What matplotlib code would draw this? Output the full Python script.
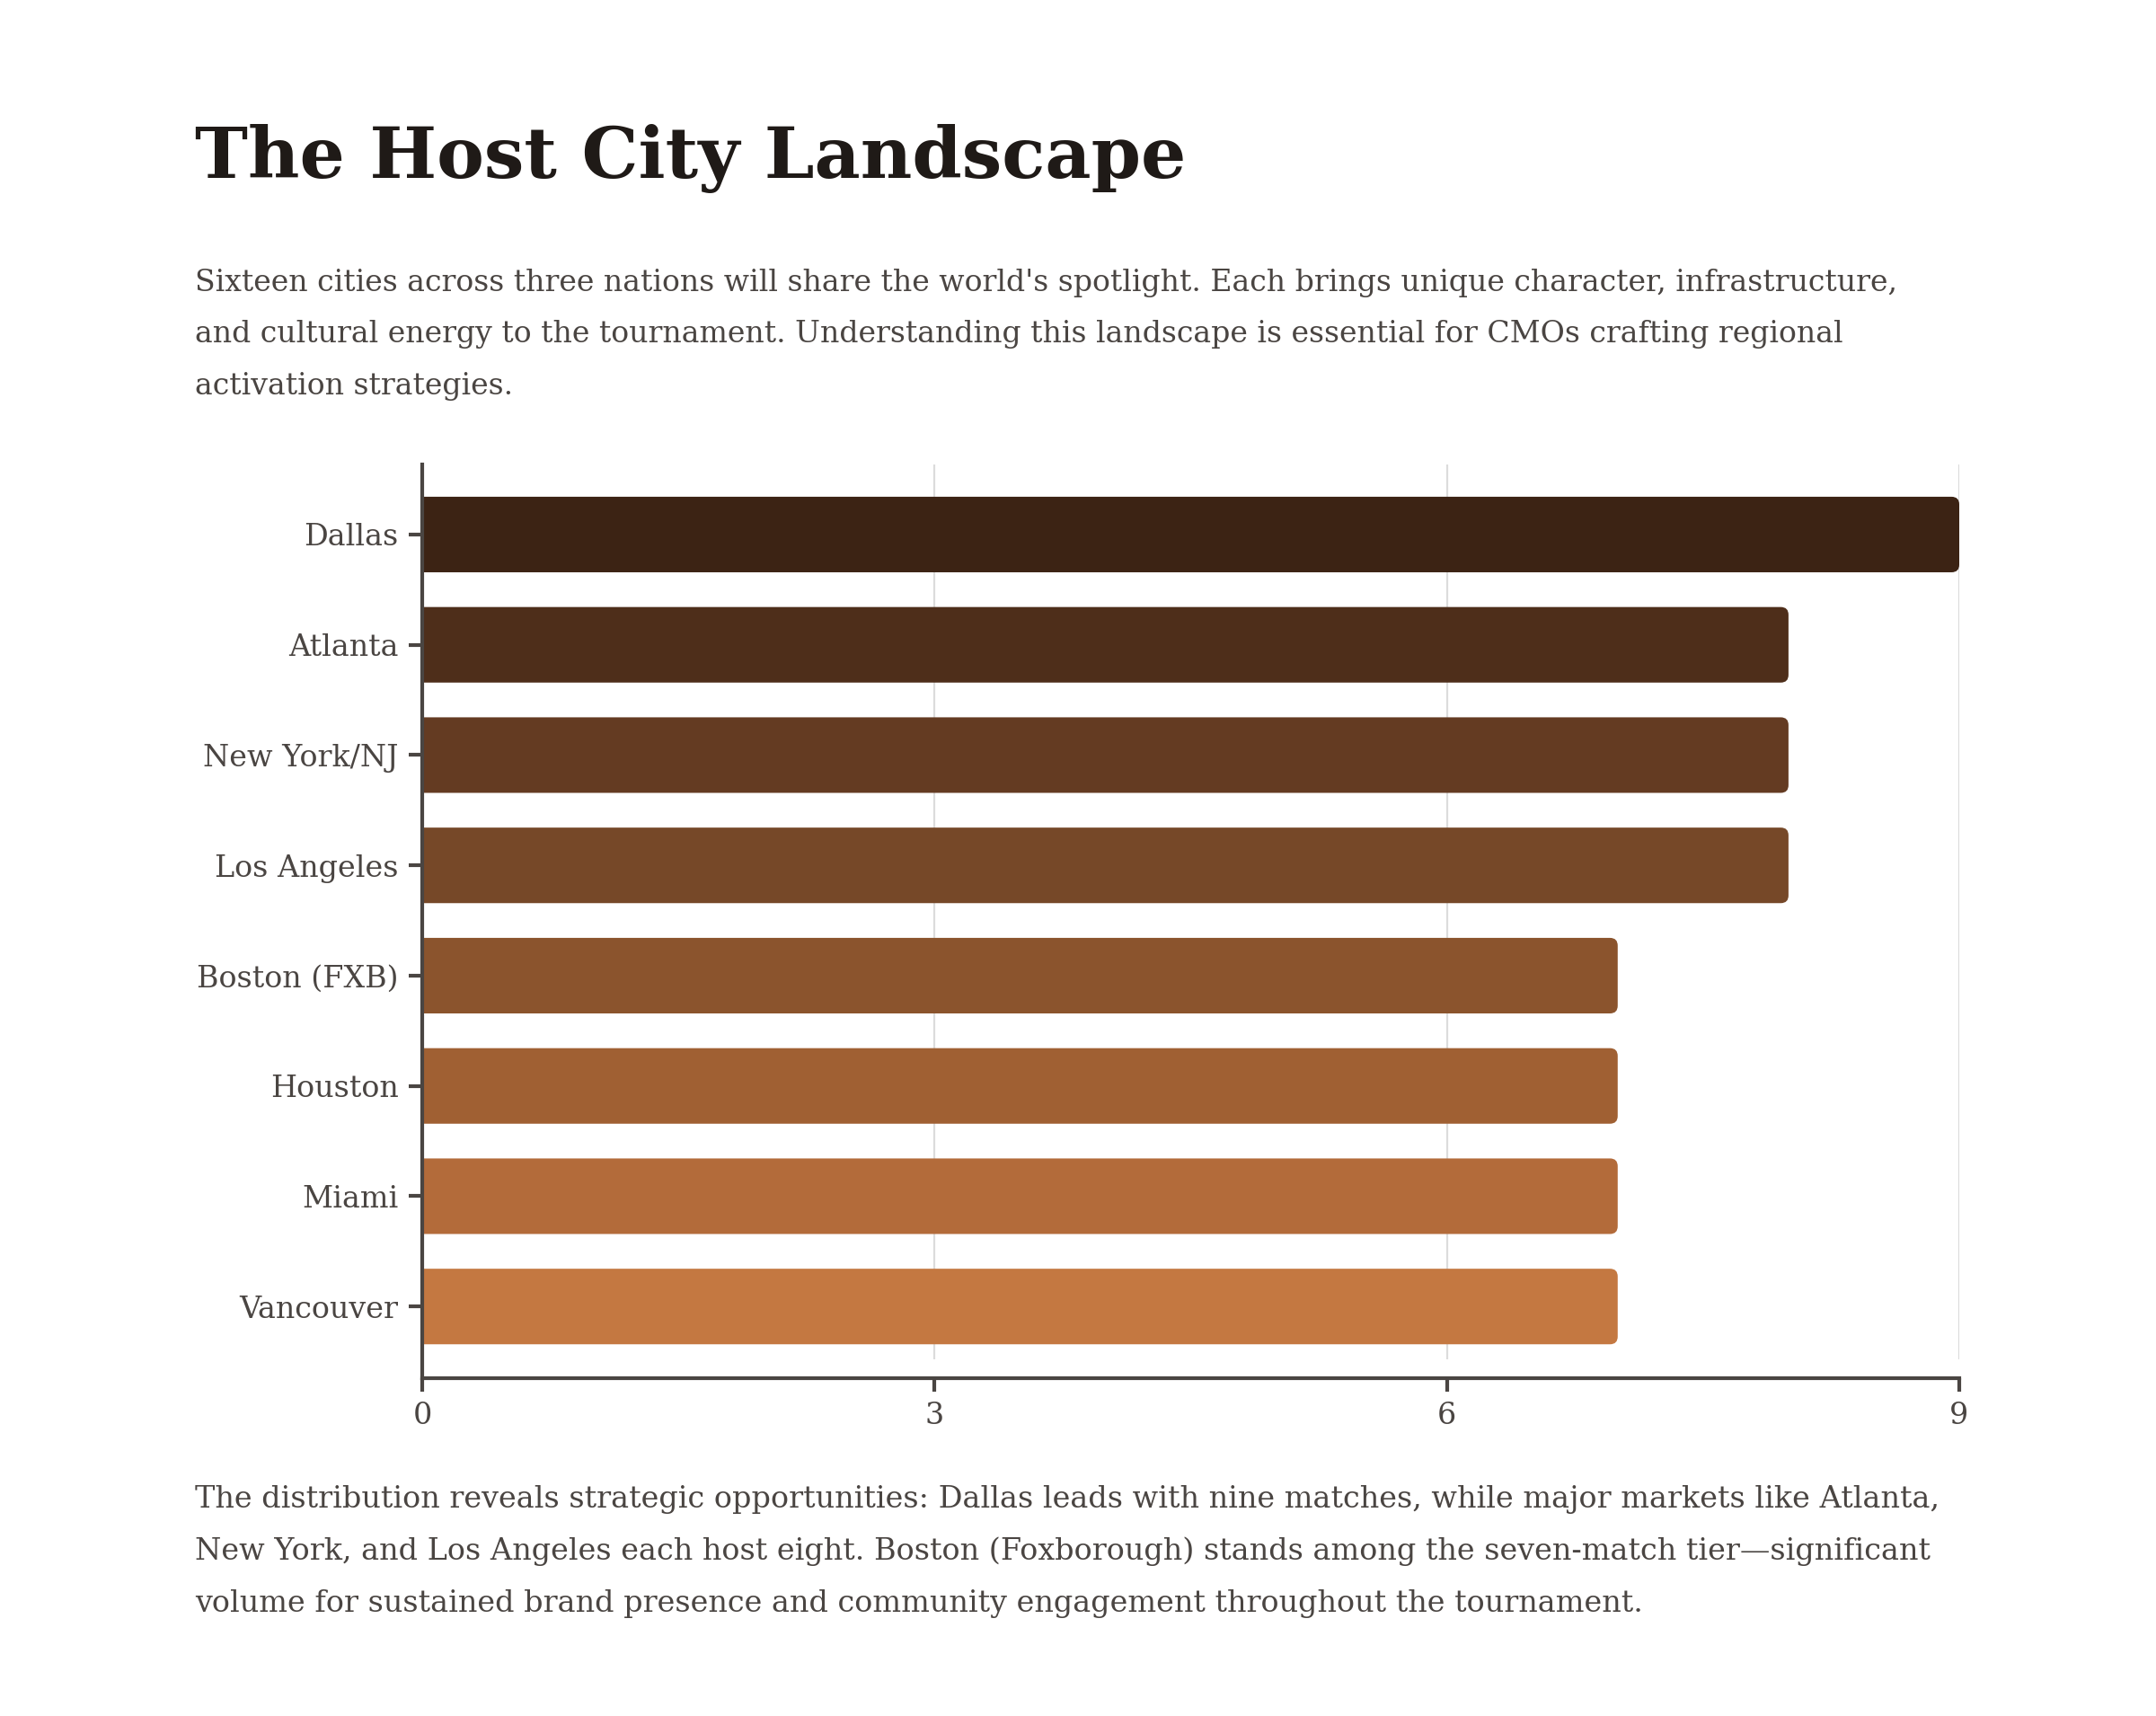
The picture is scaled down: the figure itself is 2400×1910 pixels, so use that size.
import numpy as np
import matplotlib.pyplot as plt
from matplotlib.patches import FancyBboxPatch

cities = ['Dallas', 'Atlanta', 'New York/NJ', 'Los Angeles',
          'Boston (FXB)', 'Houston', 'Miami', 'Vancouver']
matches = [9, 8, 8, 8, 7, 7, 7, 7]
bar_colors = ['#3c2314', '#4e2e1a', '#643b22', '#764828',
              '#8b542d', '#a06033', '#b36b3a', '#c47841']
x_ticks = [0, 3, 6, 9]

title = 'The Host City Landscape'
intro = ["Sixteen cities across three nations will share the world's spotlight. Each brings unique character, infrastructure,",
         "and cultural energy to the tournament. Understanding this landscape is essential for CMOs crafting regional",
         "activation strategies."]
outro = ["The distribution reveals strategic opportunities: Dallas leads with nine matches, while major markets like Atlanta,",
         "New York, and Los Angeles each host eight. Boston (Foxborough) stands among the seven-match tier\u2014significant",
         "volume for sustained brand presence and community engagement throughout the tournament."]

W, H = 2400, 1910
ink = '#4a4542'
serif = 'DejaVu Serif'

fig = plt.figure(figsize=(12, 9.55), dpi=200)
fig.patch.set_facecolor('white')


def fx(px):
    return px / W


def fy(py):
    return 1 - py / H


fig.text(fx(217), fy(198), title, family=serif, weight='bold', fontsize=28.5,
         color='#1f1a17', va='baseline', ha='left')
for i, line in enumerate(intro):
    fig.text(fx(217), fy(324 + 57.5 * i), line, family=serif, fontsize=11.95,
             color=ink, va='baseline', ha='left')
for i, line in enumerate(outro):
    fig.text(fx(217), fy(1678 + 58 * i), line, family=serif, fontsize=12.05,
             color=ink, va='baseline', ha='left')

ax = fig.add_axes([fx(470), fy(1534), fx(2181) - fx(470), (1534 - 517) / H])
y = np.arange(len(cities))
bars = ax.barh(y, matches, height=0.685, color=bar_colors, zorder=2)

# swap the plain bars for ones with rounded ends (left end is clipped by the axes)
for bar in bars:
    x0, y0 = bar.get_x(), bar.get_y()
    w, h = bar.get_width(), bar.get_height()
    rounded = FancyBboxPatch((x0 - 0.2, y0), w + 0.2, h,
                             boxstyle='round,pad=0,rounding_size=0.045',
                             mutation_aspect=1.56, facecolor=bar.get_facecolor(),
                             edgecolor='none', zorder=2)
    ax.add_patch(rounded)
    bar.set_visible(False)

ax.vlines(x_ticks[1:], -0.635, 7.48, color='#dcdcdc', linewidth=0.8, zorder=1)

ax.set_xlim(0, 9)
ax.set_ylim(7.65, -0.635)
ax.set_xticks(x_ticks)
ax.set_yticks(y)
ax.set_yticklabels(cities)
for side in ['top', 'right']:
    ax.spines[side].set_visible(False)
for side in ['left', 'bottom']:
    ax.spines[side].set_color(ink)
    ax.spines[side].set_linewidth(1.5)
    ax.spines[side].set_zorder(3)
ax.tick_params(axis='both', colors=ink, width=1.5, length=5.5, pad=4,
               labelsize=12)
for lab in ax.get_xticklabels() + ax.get_yticklabels():
    lab.set_family(serif)
    lab.set_color(ink)

fig.savefig('out.png', dpi=200, facecolor='white')
